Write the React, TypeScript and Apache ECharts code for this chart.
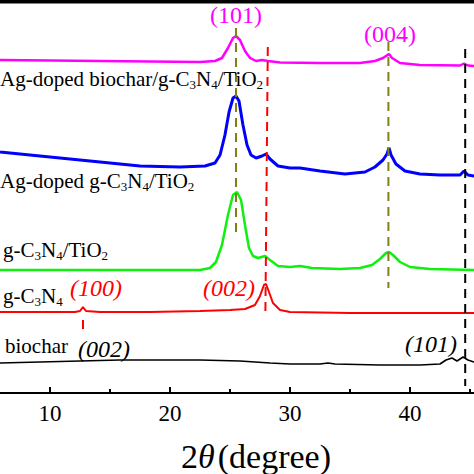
import { useEffect, useRef } from "react";
import * as echarts from "echarts";

// 2θ (degree) vs. offset intensity (a.u.)
const agBiocharCnTiO2: [number, number][] = [
  [5, 333], [5.83, 333], [10, 332.5], [14.17, 332], [18.33, 331.5], [22.5, 331], [23.75, 332],
  [24.33, 335], [24.83, 345], [25.25, 355], [25.5, 357], [25.83, 353], [26.25, 342], [26.67, 335],
  [27.17, 332], [27.67, 333], [28.17, 332], [29.17, 330.5], [32.5, 330], [35.83, 330], [37.08, 332],
  [37.75, 335], [38.25, 339], [38.5, 335], [39.17, 330], [40.83, 328], [44.17, 327.5], [44.5, 329.5],
  [44.83, 327.5], [45.33, 327], [46, 327],
];
const agCnTiO2: [number, number][] = [
  [5, 242], [5.83, 241], [8.33, 238], [10.83, 235], [14.17, 231], [17.5, 227], [20.83, 226],
  [22.92, 227], [23.75, 230], [24.17, 238], [24.58, 258], [24.92, 281], [25.25, 295], [25.5, 297],
  [25.75, 292], [26.08, 268], [26.42, 248], [26.75, 238], [27.17, 235], [27.67, 237], [28, 239],
  [28.33, 234], [29, 227], [30, 225], [30.83, 225], [32.5, 222], [34.58, 219], [36.25, 221],
  [37.08, 226], [37.75, 233], [38.08, 239], [38.25, 245], [38.42, 238], [38.83, 229], [39.58, 222],
  [40.83, 219], [42.5, 218], [44.17, 218], [44.5, 222], [44.83, 218], [45.33, 217], [46, 217],
];
const cnTiO2: [number, number][] = [
  [5, 123], [10, 123], [14.17, 123], [22.5, 123], [23.33, 125], [23.83, 131], [24.33, 148],
  [24.83, 178], [25.25, 198], [25.58, 201], [25.92, 193], [26.25, 168], [26.58, 145], [26.92, 137],
  [27.33, 135], [27.92, 137], [28.33, 133], [29, 127], [30, 126], [30.83, 127], [31.83, 125],
  [34.17, 124], [35.83, 125], [36.83, 128], [37.5, 134], [38, 140], [38.25, 141], [38.58, 138],
  [39.17, 131], [40, 126], [41.67, 124], [45.33, 123], [46, 123],
];
const gCN: [number, number][] = [
  [5, 81], [9.17, 81], [12.08, 81], [12.5, 82], [12.75, 86], [13.0, 82], [14.17, 81], [18.33, 81],
  [22.5, 82], [25, 83], [26.25, 84], [27.08, 88], [27.5, 97], [27.83, 108], [28, 109], [28.25, 101],
  [28.58, 90], [29.17, 83], [30, 81], [35, 80], [46, 80],
];
const biochar: [number, number][] = [
  [5, 30], [5.83, 30], [9.17, 31], [12.5, 32], [15.83, 33], [19.17, 33], [22.5, 33], [25.83, 32],
  [28.33, 30], [30, 29], [32.5, 29], [33.17, 30], [33.75, 29], [37.5, 28], [40.83, 28], [42.5, 29],
  [43, 33], [43.5, 35], [43.92, 32], [44.42, 36], [44.83, 33], [45.33, 31], [46, 31],
];

// reference peak guide lines
const tio2Guide101: [number, number][] = [[25.5, 365], [25.5, 155]];
const tio2Guide004: [number, number][] = [[38.2, 351], [38.2, 105]];
const cnGuide002: [number, number][] = [[28.15, 346], [27.95, 81]];
const cnGuide100: [number, number][] = [[12.75, 73], [12.75, 63]];
const carbonGuide101: [number, number][] = [[44.6, 344], [44.6, 7]];

const xTicks = [0, 50, 10];

const SERIF = "Liberation Serif";

export default function App() {
  const ref = useRef<HTMLDivElement>(null);
  useEffect(() => {
    if (!ref.current) return;
    const chart = echarts.init(ref.current, undefined, { renderer: "svg" });

    const curve = (data: [number, number][], color: string, width: number) => ({
      type: "line",
      data,
      symbol: "none",
      showSymbol: false,
      silent: true,
      lineStyle: { color, width },
      z: 2,
    });
    const guide = (data: [number, number][], color: string) => ({
      type: "line",
      data,
      symbol: "none",
      showSymbol: false,
      silent: true,
      lineStyle: { color, width: 2, type: [9, 6] },
      z: 3,
    });

    const sub = { fontSize: 13, fontFamily: SERIF, fill: "#000", verticalAlign: "bottom", lineHeight: 8 };
    const label = (text: string, x: number, y: number, opts: any = {}) => ({
      type: "text",
      x,
      y,
      z: 10,
      style: {
        text,
        fill: opts.color || "#000",
        fontSize: opts.fontSize || 21,
        fontFamily: SERIF,
        fontStyle: opts.italic ? "italic" : "normal",
        lineHeight: 24,
        align: opts.align || "left",
        textAlign: opts.align || "left",
        verticalAlign: "middle",
        textVerticalAlign: "middle",
        rich: { s: { ...sub, fill: opts.color || "#000" } },
      },
    });

    chart.setOption({
      animation: false,
      textStyle: { fontFamily: SERIF },
      grid: {
        left: -70,
        right: -56,
        top: 1.5,
        bottom: 81,
        containLabel: false,
        outerBoundsMode: "none",
      },
      xAxis: [
        {
          type: "value",
          position: "bottom",
          min: xTicks[0],
          max: xTicks[1],
          interval: xTicks[2],
          axisLine: { show: true, onZero: false, lineStyle: { color: "#000", width: 2 } },
          axisTick: { show: true, inside: true, length: 6, lineStyle: { color: "#000", width: 2 } },
          minorTick: { show: true, splitNumber: 2, length: 4, lineStyle: { color: "#000", width: 2 } },
          splitLine: { show: false },
          axisLabel: {
            color: "#000",
            fontSize: 23,
            fontFamily: SERIF,
            margin: 9,
            showMinLabel: false,
            showMaxLabel: false,
          },
        },
      ],
      yAxis: { type: "value", min: 0, max: 391.5, show: false, splitLine: { show: false } },
      series: [
        curve(biochar, "#000000", 1.6),
        curve(gCN, "#ff0000", 2),
        curve(cnTiO2, "#10f010", 2.5),
        curve(agCnTiO2, "#0000ff", 3),
        curve(agBiocharCnTiO2, "#ff00ff", 2.5),
        guide(tio2Guide101, "#808015"),
        guide(tio2Guide004, "#808015"),
        guide(cnGuide002, "#ff0000"),
        guide(cnGuide100, "#ff0000"),
        guide(carbonGuide101, "#000000"),
      ],
      graphic: [
        {
          type: "rect",
          x: 0,
          y: 0,
          z: 100,
          shape: { x: 0, y: 0, width: 474, height: 3 },
          style: { fill: "#000000", stroke: "#000000", lineWidth: 1 },
        },
        label("(101)", 236, 15, { color: "#ff00ff", fontSize: 24, align: "center" }),
        label("(004)", 390, 34, { color: "#ff00ff", fontSize: 24, align: "center" }),
        label("Ag-doped biochar/g-C{s|3}N{s|4}/TiO{s|2}", 0, 79),
        label("Ag-doped g-C{s|3}N{s|4}/TiO{s|2}", 0, 181),
        label("g-C{s|3}N{s|4}/TiO{s|2}", 3, 250),
        label("g-C{s|3}N{s|4}", 3, 296),
        label("(100)", 96, 288, { color: "#ff0000", fontSize: 24, align: "center", italic: true }),
        label("(002)", 229, 288, { color: "#ff0000", fontSize: 24, align: "center", italic: true }),
        label("biochar", 5, 346),
        label("(002)", 104, 349, { fontSize: 24, align: "center", italic: true }),
        label("(101)", 431, 344, { fontSize: 24, align: "center", italic: true }),
        {
          type: "text",
          x: 256,
          y: 456,
          z: 10,
          style: {
            text: "{n|2}{i|θ}{n|(degree)}",
            fill: "#000",
            align: "center",
            textAlign: "center",
            verticalAlign: "middle",
            textVerticalAlign: "middle",
            rich: {
              n: { fontSize: 34, lineHeight: 34, fontFamily: SERIF, fill: "#000" },
              i: {
                fontSize: 34,
                lineHeight: 34,
                fontFamily: SERIF,
                fontStyle: "italic",
                fill: "#000",
                padding: [0, 3, 0, 0],
              },
            },
          },
        },
      ],
    });
    return () => chart.dispose();
  }, []);
  return (
    <div
      ref={ref}
      style={{
        position: "absolute",
        left: 0,
        top: 0,
        width: 474,
        height: 474,
        background: "#fff",
        boxShadow: "inset 0 3px 0 #000",
      }}
    />
  );
}
